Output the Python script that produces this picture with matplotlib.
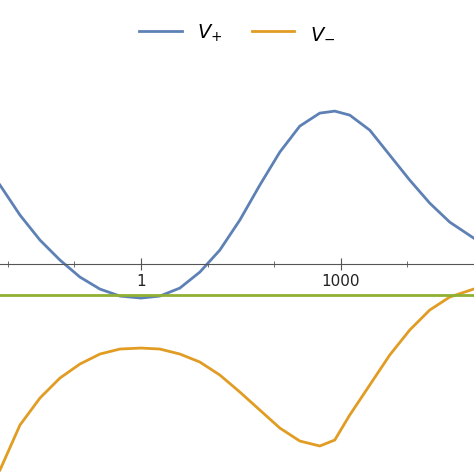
import numpy as np
import matplotlib.pyplot as plt
from matplotlib.ticker import NullFormatter

# values (x on log scale)
log_x = [-2.115, -1.815, -1.515, -1.215, -0.915, -0.615, -0.315, 0.0, 0.285, 0.585,
         0.885, 1.185, 1.485, 1.785, 2.085, 2.385, 2.685, 2.91, 3.135, 3.435,
         3.735, 4.035, 4.335, 4.635, 4.995]
v_plus = [0.79, 0.49, 0.24, 0.04, -0.13, -0.25, -0.32, -0.34, -0.32, -0.24,
          -0.08, 0.14, 0.44, 0.79, 1.12, 1.38, 1.51, 1.53, 1.49, 1.34,
          1.09, 0.84, 0.61, 0.42, 0.26]
v_minus = [-2.06, -1.61, -1.34, -1.14, -1.00, -0.90, -0.85, -0.84, -0.85, -0.90,
           -0.98, -1.11, -1.28, -1.46, -1.64, -1.77, -1.82, -1.76, -1.51, -1.21,
           -0.91, -0.66, -0.46, -0.33, -0.25]
flat_level = -0.31

x = 10 ** np.array(log_x)

fig = plt.figure(figsize=(4.74, 4.74), dpi=100)
ax = fig.add_axes([0, 0, 1, 0.89])
ax.plot(x, v_plus, color='#5e81b5', lw=2, label='$V_{+}$')
ax.plot(x, v_minus, color='#e19c24', lw=2, label='$V_{-}$')
ax.axhline(flat_level, color='#8fb032', lw=2)

ax.set_xscale('log')
ax.set_xlim(10 ** -2.115, 10 ** 5)
ax.set_ylim(-2.10, 2.12)
for s in ['top', 'right', 'left']:
    ax.spines[s].set_visible(False)
ax.spines['bottom'].set_position(('data', 0))
ax.spines['bottom'].set_color('#555555')
ax.set_yticks([])
ax.set_xticks([1, 1000])
ax.set_xticklabels(['1', '1000'])
ax.set_xticks([1e-2, 1e-1, 10, 100, 1e4], minor=True)
ax.xaxis.set_minor_formatter(NullFormatter())
ax.tick_params(axis='x', which='major', direction='inout', length=8, labelsize=11, colors='#555555', labelcolor='#222222')
ax.tick_params(axis='x', which='minor', direction='inout', length=5, colors='#555555')

fig.legend(loc='upper center', ncol=2, frameon=False, fontsize=14, bbox_to_anchor=(0.5, 0.99),
           handlelength=2.2, columnspacing=1.5)

fig.savefig('out.png')
